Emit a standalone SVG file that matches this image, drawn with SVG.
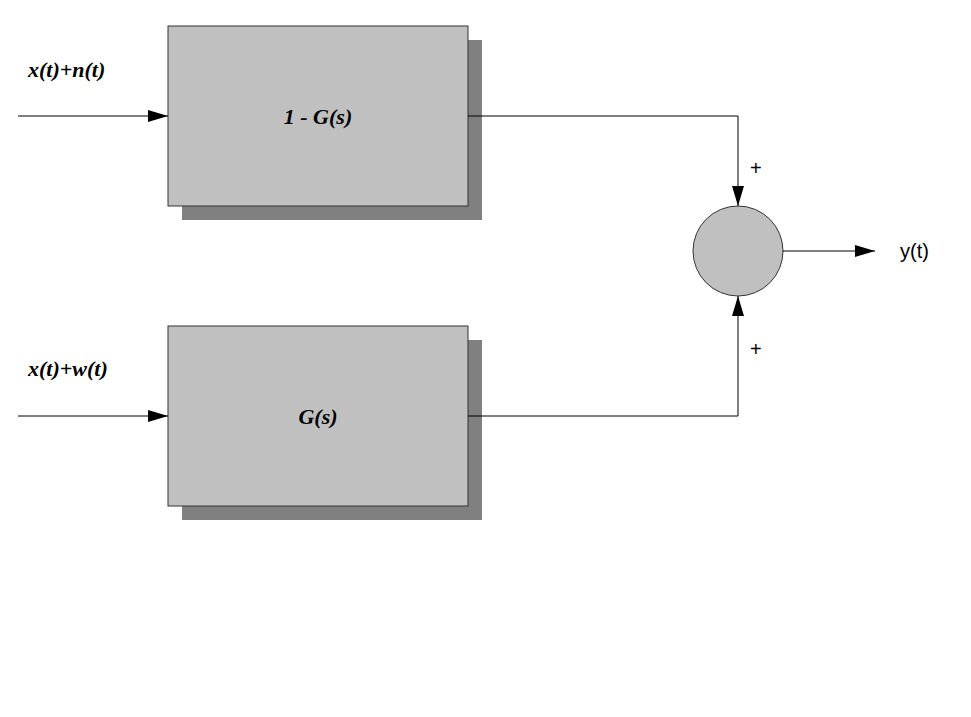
<svg xmlns="http://www.w3.org/2000/svg" width="971" height="717" viewBox="0 0 971 717">
<style>
.box{fill:#c0c0c0;stroke:#333;stroke-width:1}
.sh{fill:#808080}
.ln{fill:none;stroke:#000;stroke-width:1}
.ti{font-family:"Liberation Serif",serif;font-style:italic;font-weight:bold;font-size:22px;fill:#000}
.sa{font-family:"Liberation Sans",sans-serif;font-size:20px;fill:#000}
</style>
<defs><marker id="a" markerWidth="20" markerHeight="12" refX="20" refY="6" orient="auto" markerUnits="userSpaceOnUse"><path d="M0,0L20,6L0,12z" fill="#000"/></marker></defs>
<rect width="971" height="717" fill="#fff"/>
<g id="box1"><rect class="sh" x="182" y="40" width="300" height="180"/><rect class="box" x="168" y="26" width="300" height="180"/><text class="ti" x="318" y="124" text-anchor="middle">1 - G(s)</text></g>
<g id="box2"><rect class="sh" x="182" y="340" width="300" height="180"/><rect class="box" x="168" y="326" width="300" height="180"/><text class="ti" x="318" y="424" text-anchor="middle">G(s)</text></g>
<g id="sum"><circle cx="738" cy="251" r="45" fill="#c0c0c0" stroke="#333"/></g>
<g id="connectors">
<line class="ln" x1="18" y1="116" x2="168" y2="116" marker-end="url(#a)"/>
<line class="ln" x1="18" y1="416" x2="168" y2="416" marker-end="url(#a)"/>
<polyline class="ln" points="468,116 738,116 738,206" marker-end="url(#a)"/>
<polyline class="ln" points="468,416 738,416 738,296" marker-end="url(#a)"/>
<line class="ln" x1="783" y1="251" x2="875" y2="251" marker-end="url(#a)"/>
</g>
<g id="labels">
<text class="ti" x="28" y="77">x(t)+n(t)</text>
<text class="ti" x="28" y="376">x(t)+w(t)</text>
<text class="sa" x="750" y="175">+</text>
<text class="sa" x="750" y="356">+</text>
<text class="sa" x="900" y="258">y(t)</text>
</g>
</svg>
